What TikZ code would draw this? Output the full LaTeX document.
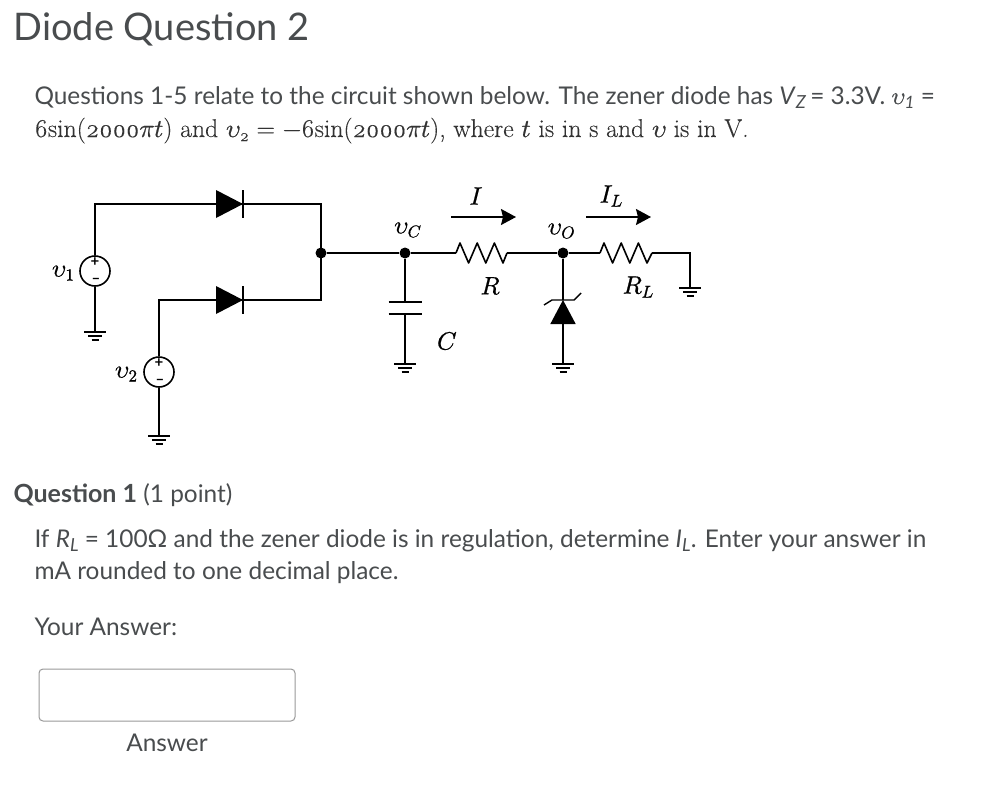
\documentclass[tikz,border=0pt]{standalone}
\usepackage{fontspec}
\setmainfont{Lato}
\newfontfamily\serifpart[Numbers=OldStyle,FakeBold=0.25]{Latin Modern Roman}
\newfontfamily\mth[FakeBold=0.8]{Latin Modern Math}
\definecolor{txt}{HTML}{494C4E}
\usetikzlibrary{arrows.meta,calc}
\tikzset{
  x=1pt,y=-1pt,
  wire/.style={line width=1.6pt,black,line join=miter},
  line/.style={anchor=base west,inner sep=0pt,outer sep=0pt,text=txt,font=\fontsize{24.4}{24.4}\selectfont},
  lab/.style={inner sep=0pt,outer sep=0pt,text=black,font=\fontsize{25}{25}\selectfont},
  sign/.style={inner sep=0pt,font=\fontsize{15}{15}\bfseries\selectfont},
  dot/.style={circle,fill=black,inner sep=0pt,minimum size=11pt},
  src/.style={circle,draw=black,line width=1.6pt,fill=white,inner sep=0pt,minimum size=30pt},
  curarrow/.style={line width=1.6pt,-{Stealth[length=15pt,width=16pt,inset=2pt]}},
}
\newcommand{\subs}[1]{\raisebox{-4pt}{\fontsize{17}{17}\selectfont #1}}
\newcommand{\gnd}[1]{%
  \draw[line width=1.4pt] ($(#1)+(-11,0)$) -- ($(#1)+(11,0)$);
  \draw[line width=1.4pt] ($(#1)+(-7,4)$) -- ($(#1)+(7,4)$);
  \draw[line width=1.4pt] ($(#1)+(-3.5,8)$) -- ($(#1)+(3.5,8)$);}
\newcommand{\diodeR}[1]{%
  \fill ($(#1)+(-27,-14)$) -- (#1) -- ($(#1)+(-27,14)$) -- cycle;
  \draw[line width=1.6pt] ($(#1)+(0,-14)$) -- ($(#1)+(0,14)$);}
\newcommand{\zig}[2]{%
  \draw[wire,line join=round] (#1) -- ++(4,-10) -- ++(8.6,20) -- ++(8.6,-20) -- ++(8.6,20) -- ++(8.6,-20) -- ++(8.6,20) -- (#2);}
\begin{document}
\begin{tikzpicture}
\useasboundingbox (0,0) rectangle (987,784);
\fill[white] (0,0) rectangle (987,784);
% text
\node[line,font=\fontsize{38}{38}\selectfont] (title) at (13.5,41) {Diode Question 2};
\node[line] (l1) at (34.5,104) {Questions 1-5 relate to the circuit shown below. The zener diode has \textit{V}\raisebox{-4pt}{\fontsize{18}{18}\selectfont\textit{Z}}\,= 3.3V. {\mth 𝜐}\subs{\textit{1}} =};
\node[line,text=black!80,font=\fontsize{25.7}{26}\selectfont] (l2) at (34.5,137) {\serifpart 6sin(2000{\mth 𝜋𝑡}) and {\mth 𝜐}\subs{2} = −6sin(2000{\mth 𝜋𝑡}), where {\mth 𝑡} is in s and {\mth 𝜐} is in V.};
\node[line] (q1) at (13.5,502) {\textbf{\fontsize{25}{25}\selectfont Question 1} (1 point)};
\node[line] (l3) at (34.5,547) {If \textit{R}\raisebox{-4pt}{\fontsize{18}{18}\selectfont\textit{L}} = 100Ω and the zener diode is in regulation, determine \textit{I}\raisebox{-4pt}{\fontsize{18}{18}\selectfont\textit{L}}. Enter your answer in};
\node[line] (l4) at (34.5,579) {mA rounded to one decimal place.};
\node[line] (ya) at (34.5,635) {Your Answer:};
\draw[draw=black!40,line width=1pt,rounded corners=4pt,fill=white] (39,669) rectangle (295,721);
\node[line,anchor=base] (ans) at (167,751) {Answer};
% circuit points
\node[src] (v1) at (95,271) {};
\node[src] (v2) at (159,372) {};
\coordinate (g1) at (95,332);
\coordinate (g2) at (159,436);
\coordinate (g3) at (405,364);
\coordinate (g4) at (563,364);
\coordinate (g5) at (690,288);
\coordinate (c1) at (95,204);
\coordinate (c2) at (159,300);
\coordinate (d1) at (243,204);
\coordinate (d2) at (243,300);
\coordinate (c3) at (321,204);
\coordinate (c4) at (321,300);
\node[dot] (j) at (321,253) {};
\node[dot] (vc) at (405,253) {};
\node[dot] (vo) at (563,253) {};
\coordinate (r1) at (456,253);
\coordinate (r2) at (507,253);
\coordinate (r3) at (600,253);
\coordinate (r4) at (652,253);
\coordinate (c5) at (690,253);
\coordinate (pt) at (405,302);
\coordinate (pb) at (405,314);
\coordinate (za) at (563,300);
\coordinate (zb) at (563,324);
% wires
\draw[wire] (v1) -- (c1) -- (d1) -- (c3) -- (c4) -- (d2) -- (c2) -- (v2);
\draw[wire] (v1) -- (g1);
\draw[wire] (v2) -- (g2);
\draw[wire] (j) -- (vc) -- (r1);
\draw[wire] (r2) -- (vo) -- (r3);
\draw[wire] (r4) -- (c5) -- (g5);
\draw[wire] (vc) -- (pt);
\draw[wire] (pb) -- (g3);
\draw[wire] (vo) -- (za);
\draw[wire] (zb) -- (g4);
\zig{r1}{r2}
\zig{r3}{r4}
\diodeR{d1}
\diodeR{d2}
\draw[line width=1.6pt] ($(pt)+(-16.5,0)$) -- ($(pt)+(16.5,0)$);
\draw[line width=1.6pt] ($(pb)+(-16.5,0)$) -- ($(pb)+(16.5,0)$);
\fill (za) -- ($(zb)+(-12.7,0)$) -- ($(zb)+(12.7,0)$) -- cycle;
\draw[line width=1.4pt] ($(za)+(-19,5)$) -- ($(za)+(-11,0)$) -- ($(za)+(11,0)$) -- ($(za)+(18,-7)$);
\gnd{g1}\gnd{g2}\gnd{g3}\gnd{g4}\gnd{g5}
% source signs
\node[sign] (p1) at (95,262) {+};
\node[sign] (m1) at (96,281) {–};
\node[sign] (p2) at (159,363) {+};
\node[sign] (m2) at (160,382) {–};
% current arrows
\coordinate (ia) at (451,217);\coordinate (ib) at (516,217);
\coordinate (ic) at (586,217);\coordinate (id) at (651,217);
\draw[curarrow] (ia) -- (ib);
\draw[curarrow] (ic) -- (id);
% labels
\node[lab] (lv1) at (63,273) {\mth 𝜐\subs{\textit{1}}};
\node[lab] (lv2) at (126,374) {\mth 𝜐\subs{2}};
\node[lab] (lvc) at (407,230) {\mth 𝜐\subs{𝐶}};
\node[lab] (lvo) at (561,231) {\mth 𝜐\subs{𝑂}};
\node[lab] (li) at (475,196) {\mth 𝐼};
\node[lab] (lil) at (611,196) {\mth 𝐼\subs{𝐿}};
\node[lab] (lr) at (490,286) {\mth 𝑅};
\node[lab] (lrl) at (638,287) {\mth 𝑅\subs{𝐿}};
\node[lab] (lc) at (446,341) {\mth 𝐶};
\end{tikzpicture}
\end{document}
